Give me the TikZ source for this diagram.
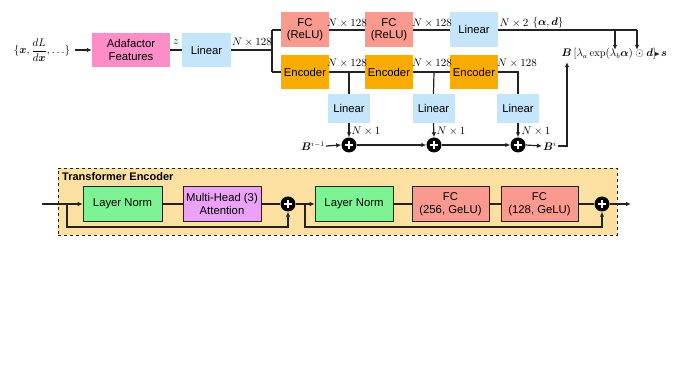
\documentclass[tikz,border=0pt]{standalone}
\usepackage{amsmath,bm}
\usepackage{fontspec}
\setsansfont{Liberation Sans}
\usetikzlibrary{arrows.meta,calc}
\definecolor{cpink}{HTML}{FC8DC6}
\definecolor{cblue}{HTML}{C5E5FB}
\definecolor{csalmon}{HTML}{FA998E}
\definecolor{corange}{HTML}{F9AB00}
\definecolor{cgreen}{HTML}{7DF394}
\definecolor{cviolet}{HTML}{E9A2F5}
\definecolor{cbg}{HTML}{FCE0A2}
\definecolor{cline}{HTML}{222222}
\tikzset{
  blk/.style={rectangle, draw=none, font=\sffamily\fontsize{11.3}{12.5}\selectfont, align=center, inner sep=0pt},
  bblk/.style={rectangle, draw=cline, line width=0.6pt, font=\sffamily\fontsize{11.3}{12.5}\selectfont, align=center, inner sep=0pt, minimum width=78pt, minimum height=35pt},
  conn/.style={draw=cline, line width=1.2pt},
  arr/.style={conn, -{Latex[length=5pt,width=4.5pt]}},
  lbl/.style={font=\fontsize{10.5}{12}\selectfont, inner sep=1pt},
  plusc/.style={circle, fill=black, minimum size=15pt, inner sep=0pt,
    path picture={\draw[white, line width=2pt]
      ([xshift=-4.2pt]path picture bounding box.center) -- ([xshift=4.2pt]path picture bounding box.center)
      ([yshift=-4.2pt]path picture bounding box.center) -- ([yshift=4.2pt]path picture bounding box.center);}}
}
\begin{document}
\begin{tikzpicture}[x=1pt,y=-1pt]
\useasboundingbox (0,0) rectangle (673,379);
% ---------- top part ----------
\node[lbl] (inp) at (42,50) {$\displaystyle\{\boldsymbol{x},\frac{dL}{d\boldsymbol{x}},\ldots\}$};
\node[blk, fill=cpink, minimum width=78pt, minimum height=34pt] (ada) at (131,50) {Adafactor\\Features};
\node[blk, fill=cblue, minimum width=49pt, minimum height=34pt] (lin0) at (206.5,50) {Linear};
\node[lbl] (zl) at (176,42) {$z$};
\node[lbl] (l0) at (252,42) {$N\times 128$};

\node[blk, fill=csalmon, minimum width=48pt, minimum height=35pt] (fc1) at (305,29.5) {FC\\(ReLU)};
\node[blk, fill=csalmon, minimum width=48pt, minimum height=35pt] (fc2) at (389,29.5) {FC\\(ReLU)};
\node[blk, fill=cblue, minimum width=48pt, minimum height=35pt] (linout) at (474,29.5) {Linear};

\node[blk, fill=corange, minimum width=48pt, minimum height=34pt] (enc1) at (305,72) {Encoder};
\node[blk, fill=corange, minimum width=48pt, minimum height=34pt] (enc2) at (389,72) {Encoder};
\node[blk, fill=corange, minimum width=48pt, minimum height=34pt] (enc3) at (474,72) {Encoder};

\node[blk, fill=cblue, minimum width=42pt, minimum height=29pt] (lin1) at (349,108.5) {Linear};
\node[blk, fill=cblue, minimum width=42pt, minimum height=29pt] (lin2) at (433.5,108.5) {Linear};
\node[blk, fill=cblue, minimum width=42pt, minimum height=29pt] (lin3) at (518,108.5) {Linear};

\node[plusc] (p1) at (349,145) {};
\node[plusc] (p2) at (434,145) {};
\node[plusc] (p3) at (518,145) {};

\node[lbl, anchor=east] (bprev) at (326,146) {$\boldsymbol{B}^{i-1}$};
\node[lbl, anchor=west] (bi) at (542,146) {$\boldsymbol{B}^{i}$};

\node[lbl, anchor=west, inner sep=0.5pt] (form) at (561,54) {$\boldsymbol{B}\left[\lambda_a\exp(\lambda_b\boldsymbol{\alpha})\odot\boldsymbol{d}\right]$};
\node[lbl, anchor=west] (s) at (660,54) {$\boldsymbol{s}$};

% labels
\node[lbl] at (347,23) {$N\times 128$};
\node[lbl] at (432,23) {$N\times 128$};
\node[lbl] at (514,23) {$N\times 2$};
\node[lbl] at (548,23) {$\{\boldsymbol{\alpha},\boldsymbol{d}\}$};
\node[lbl] at (347,63) {$N\times 128$};
\node[lbl] at (432,63) {$N\times 128$};
\node[lbl] at (517,63) {$N\times 128$};
\node[lbl] at (366,131) {$N\times 1$};
\node[lbl] at (451,131) {$N\times 1$};
\node[lbl] at (536,131) {$N\times 1$};

% coordinates
\coordinate (sp) at (272,50);
\coordinate (spt) at (272,30);
\coordinate (spb) at (272,72);
\coordinate (ta) at (615,30);
\coordinate (td) at (637,30);
\coordinate (e1) at (349,72);
\coordinate (e2) at (434,72);
\coordinate (e3) at (518,72);
\coordinate (bu) at (567,146);

% connectors
\draw[arr] (inp.east) ++(4,0) -- (ada.west);
\draw[conn] (ada.east) -- (lin0.west);
\draw[conn] (lin0.east) -- (sp);
\draw[conn] (spt) -- (spb);
\draw[conn] (spt) -- (spt -| fc1.west);
\draw[conn] (spb) -- (enc1.west);
\draw[conn] (fc1.east |- spt) -- (fc2.west |- spt);
\draw[conn] (fc2.east |- spt) -- (linout.west |- spt);
\draw[conn] (linout.east |- spt) -- (td);
\draw[arr] (ta) -- ($(ta |- form.north)+(0,2)$);
\draw[arr] (td) -- ($(td |- form.north)+(0,2)$);
\draw[conn] (enc1.east) -- (enc2.west);
\draw[conn] (enc2.east) -- (enc3.west);
\draw[conn] (enc3.east) -- (e3) -- (lin3.north);
\draw[conn] (e1) -- (lin1.north);
\draw[conn] (e2) -- (lin2.north);
\draw[arr] (lin1.south) -- (p1.north);
\draw[arr] (lin2.south) -- (p2.north);
\draw[arr] (lin3.south) -- (p3.north);
\draw[arr] (bprev.east) -- (p1.west);
\draw[arr] (p1.east) -- (p2.west);
\draw[arr] (p2.east) -- (p3.west);
\draw[arr] (p3.east) -- (bi.west);
\draw[arr] (bi.east) -- (bu) -- ($(bu |- form.south)+(0,2)$);
\draw[arr] (form.east) -- (s.west);

% ---------- Transformer encoder ----------
\node[draw=cline, dashed, line width=0.7pt, fill=cbg, minimum width=559pt, minimum height=67pt, inner sep=0pt] (bg) at (337.5,201.5) {};
\node[anchor=west, font=\sffamily\bfseries\fontsize{11}{12}\selectfont, inner sep=0pt] (title) at (62,176.5) {Transformer Encoder};

\node[bblk, fill=cgreen, minimum width=79pt] (ln1) at (122.5,204) {Layer Norm};
\node[bblk, fill=cviolet] (mha) at (222,204) {Multi-Head (3)\\Attention};
\node[plusc] (pa) at (288,204) {};
\node[bblk, fill=cgreen] (ln2) at (354,204) {Layer Norm};
\node[bblk, fill=csalmon, minimum width=77pt] (fca) at (450.5,204) {FC\\(256, GeLU)};
\node[bblk, fill=csalmon, minimum width=77pt] (fcb) at (539.5,204) {FC\\(128, GeLU)};
\node[plusc] (pb) at (602,204) {};

\coordinate (in) at (42,204);
\coordinate (s1) at (67,204);
\coordinate (s1b) at (67,227);
\coordinate (s2) at (305,204);
\coordinate (s2b) at (305,227);
\coordinate (out) at (631,204);

\draw[arr] (in) -- (ln1.west);
\draw[conn] (ln1.east) -- (mha.west);
\draw[conn] (mha.east) -- (pa.west);
\draw[arr] (pa.east) -- (ln2.west);
\draw[conn] (ln2.east) -- (fca.west);
\draw[conn] (fca.east) -- (fcb.west);
\draw[conn] (fcb.east) -- (pb.west);
\draw[arr] (pb.east) -- (out);
\draw[arr] (s1) -- (s1b) -| (pa.south);
\draw[arr] (s2) -- (s2b) -| (pb.south);
\end{tikzpicture}
\end{document}
